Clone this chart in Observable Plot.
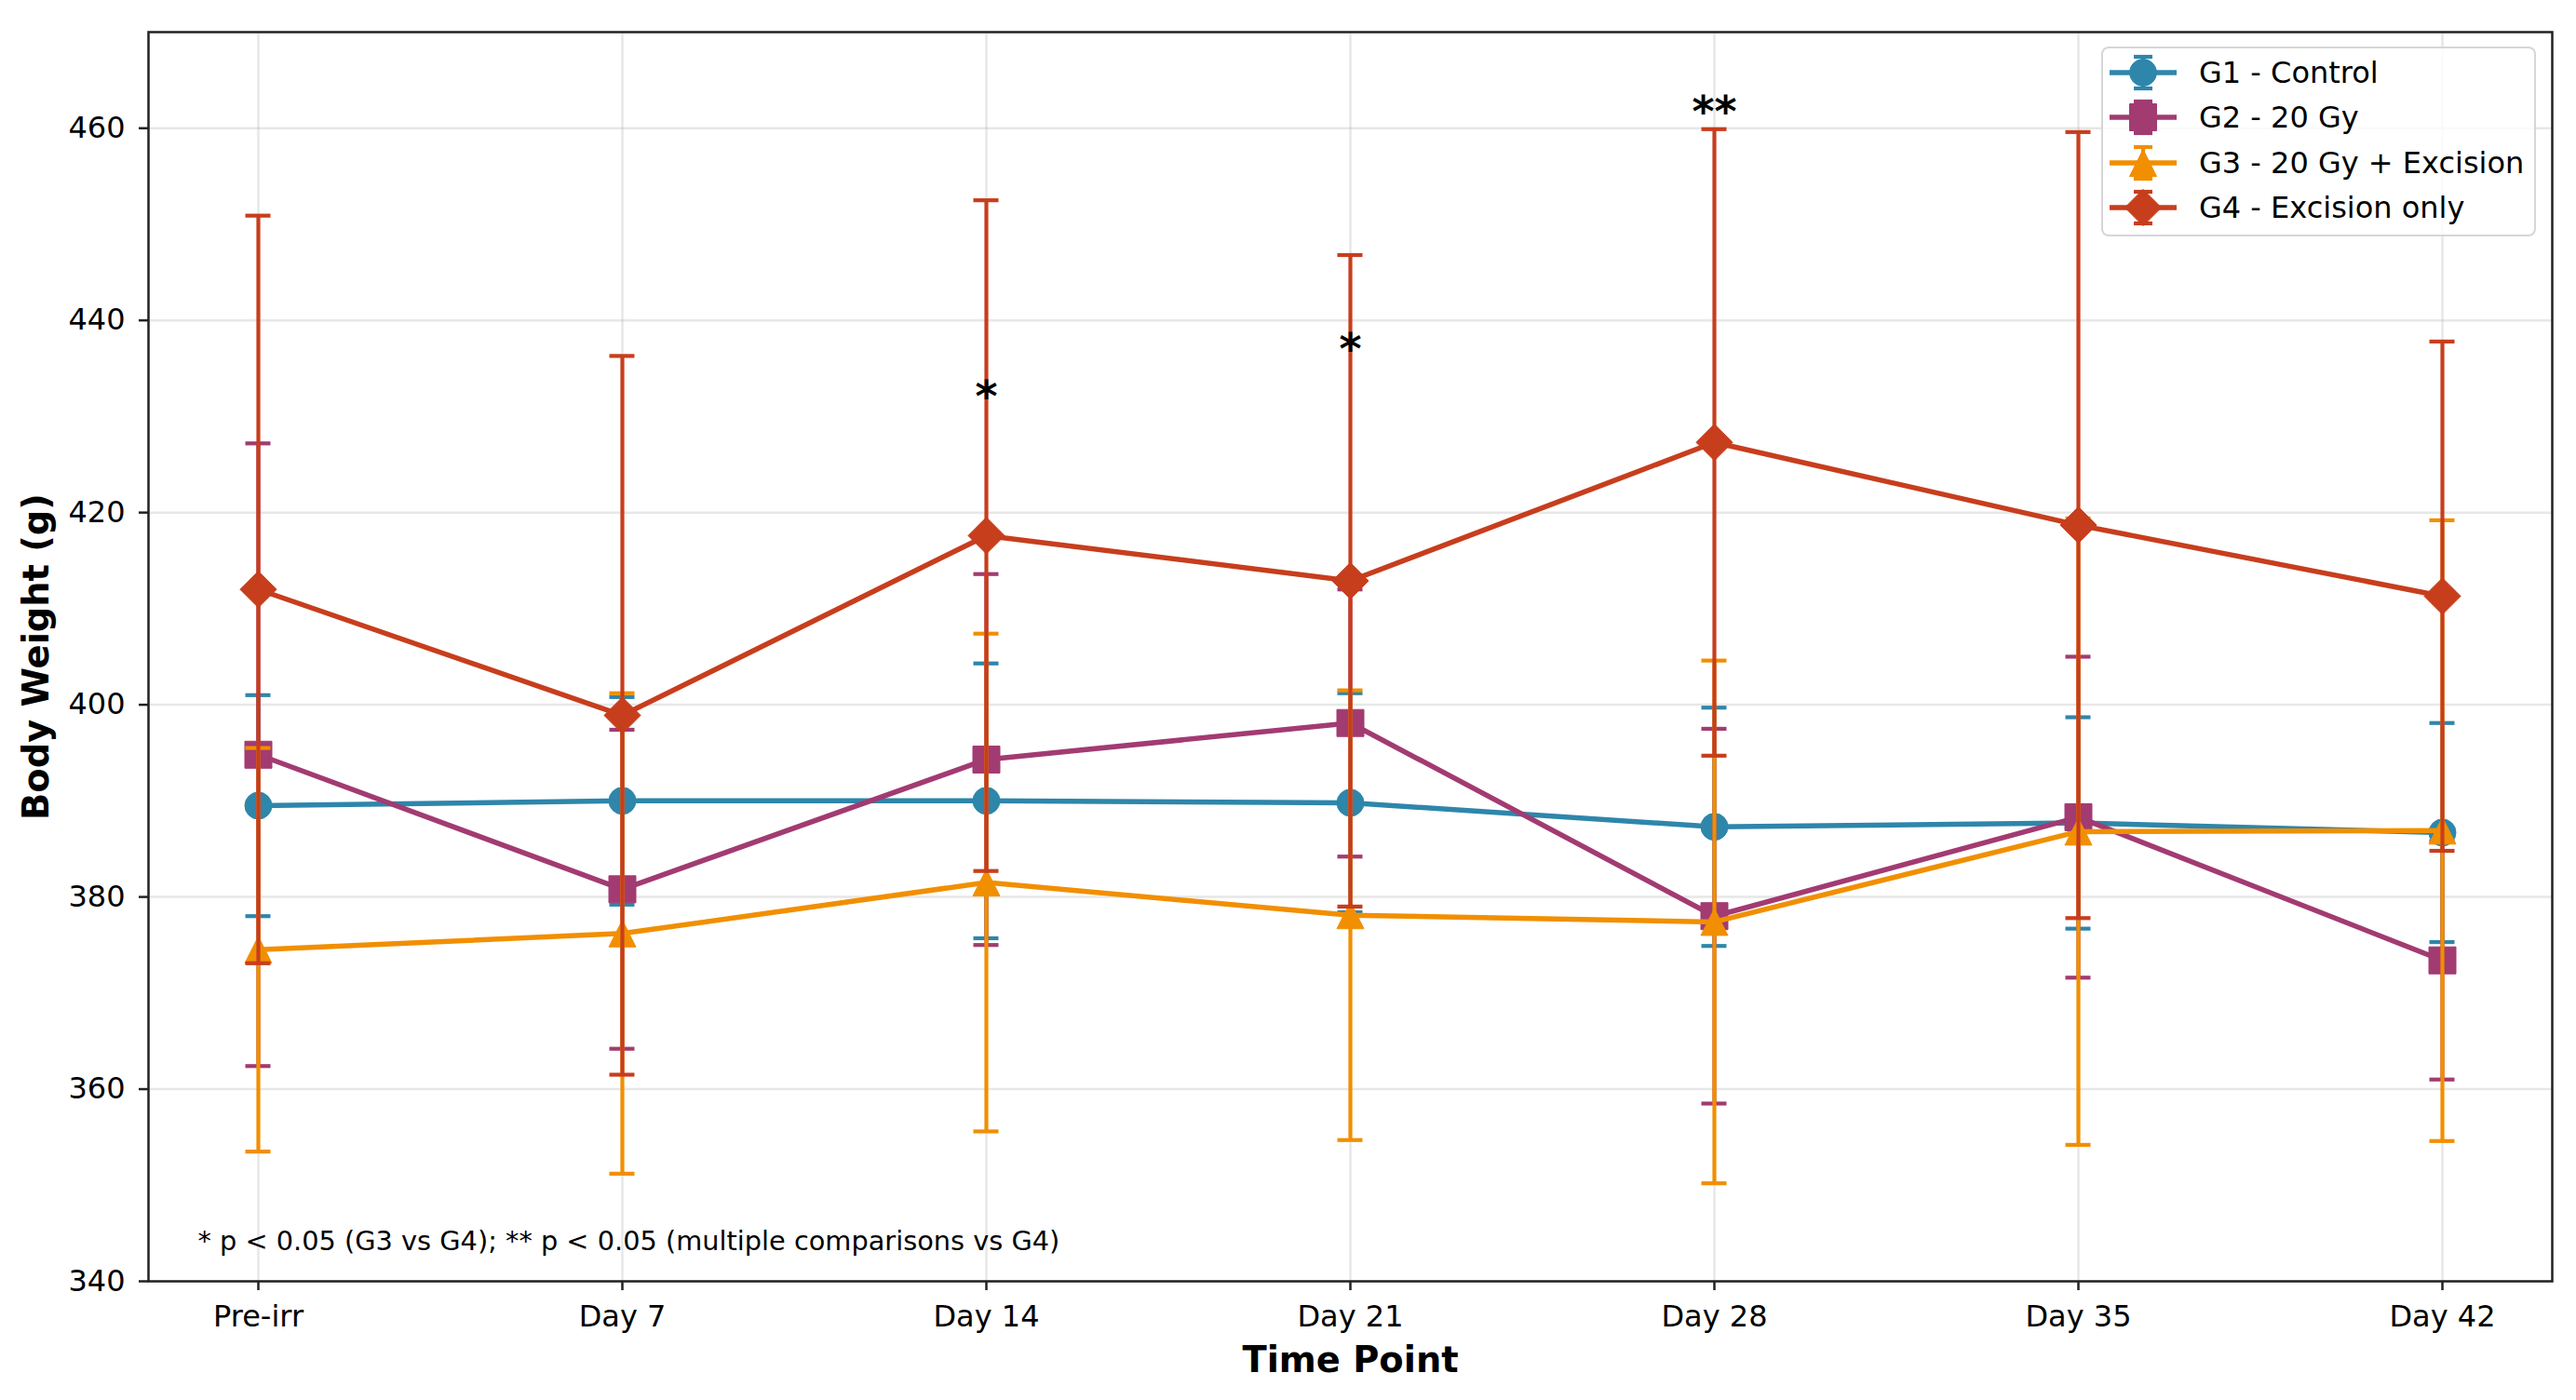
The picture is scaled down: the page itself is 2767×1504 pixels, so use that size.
<!DOCTYPE html>
<html>
<head>
<meta charset="utf-8">
<script src="https://cdn.jsdelivr.net/npm/d3@7"></script>
<script src="https://cdn.jsdelivr.net/npm/@observablehq/plot@0.6"></script>
<style>
  html, body { margin: 0; padding: 0; background: #fff; }
  #chart { position: relative; width: 2767px; height: 1504px; font-family: "DejaVu Sans", sans-serif; }
  #legend {
    position: absolute; left: 2257px; top: 50px; width: 467px; height: 204px;
    box-sizing: border-box; border: 2px solid rgba(204,204,204,0.8); border-radius: 8px;
    background: rgba(255,255,255,0.8);
  }
  #legend .row { position: absolute; left: 7px; height: 48px; display: flex; align-items: center; }
  #legend .row span { margin-left: 24px; font-size: 32px; color: #000; white-space: nowrap; }
</style>
</head>
<body>
<div id="chart"></div>
<script>
// Time points on the x axis
const timepoints = ["Pre-irr", "Day 7", "Day 14", "Day 21", "Day 28", "Day 35", "Day 42"];

// Group means and SEM of body weight (g)
const g1Mean = [389.5, 390.0, 390.0, 389.8, 387.3, 387.7, 386.7];
const g1Sem  = [11.5, 10.8, 14.3, 11.4, 12.4, 11.0, 11.4];
const g2Mean = [394.8, 380.8, 394.3, 398.1, 378.0, 388.3, 373.4];
const g2Sem  = [32.4, 16.6, 19.3, 13.9, 19.5, 16.7, 12.4];
const g3Mean = [374.5, 376.2, 381.5, 378.1, 377.4, 386.8, 386.9];
const g3Sem  = [21.0, 25.0, 25.9, 23.4, 27.2, 32.6, 32.3];
const g4Mean = [412.0, 398.9, 417.6, 412.9, 427.3, 418.7, 411.3];
const g4Sem  = [38.9, 37.4, 34.9, 33.9, 32.6, 40.9, 26.5];

const groupNames   = ["G1 - Control", "G2 - 20 Gy", "G3 - 20 Gy + Excision", "G4 - Excision only"];
const groupColors  = ["#2E86AB", "#A23B72", "#F18F01", "#C73E1D"];
const groupMarkers = ["circle", "square", "triangle", "diamond"];
const groupMeans   = [g1Mean, g2Mean, g3Mean, g4Mean];
const groupSems    = [g1Sem, g2Sem, g3Sem, g4Sem];

// y axis ticks
const yTicks = [340, 360, 380, 400, 420, 440, 460];

// Significance markers
const sigTimepoints = ["Day 14", "Day 21", "Day 28"];
const sigLabels     = ["*", "*", "**"];
const sigY          = [432.5, 437.5, 462.2];

const footnote = "* p < 0.05 (G3 vs G4); ** p < 0.05 (multiple comparisons vs G4)";
const xLabel = "Time Point";
const yLabel = "Body Weight (g)";

// Marker shapes (radius r = half marker size)
const markerPaths = {
  circle:   (p, r) => { p.moveTo(r, 0); p.arc(0, 0, r, 0, 2 * Math.PI); },
  square:   (p, r) => { p.rect(-r, -r, 2 * r, 2 * r); },
  triangle: (p, r) => { p.moveTo(0, -r); p.lineTo(r, r); p.lineTo(-r, r); p.closePath(); },
  diamond:  (p, r) => { const d = r * 1.35; p.moveTo(0, -d); p.lineTo(d, 0); p.lineTo(0, d); p.lineTo(-d, 0); p.closePath(); }
};
const symbolOf = (k) => ({ draw(ctx, size) { markerPaths[k](ctx, Math.sqrt(size / Math.PI)); } });

const MARKER_R = 14.5;
const CAP = 13.5;
const LINE_W = 5.5;
const BAR_W = 4.2;

const groupMarks = groupNames.flatMap((name, g) => {
  const rows = timepoints.map((t, i) => ({
    time: t,
    mean: groupMeans[g][i],
    lo: groupMeans[g][i] - groupSems[g][i],
    hi: groupMeans[g][i] + groupSems[g][i]
  }));
  const color = groupColors[g];
  const cap = (key) => Plot.ruleY(rows, { x1: "time", x2: "time", y: key, stroke: color, strokeWidth: BAR_W, insetLeft: -CAP, insetRight: -CAP });
  return [
    Plot.line(rows, { x: "time", y: "mean", stroke: color, strokeWidth: LINE_W }),
    Plot.dot(rows, { x: "time", y: "mean", symbol: symbolOf(groupMarkers[g]), r: MARKER_R, fill: color, stroke: color, strokeWidth: 1 }),
    Plot.ruleX(rows, { x: "time", y1: "lo", y2: "hi", stroke: color, strokeWidth: BAR_W }),
    cap("lo"),
    cap("hi")
  ];
});

const sigRows = sigTimepoints.map((t, i) => ({ time: t, y: sigY[i], label: sigLabels[i] }));

const gridStyle = { stroke: "#b0b0b0", strokeOpacity: 0.3, strokeWidth: 2.5 };

const chart = Plot.plot({
  width: 2767,
  height: 1504,
  marginLeft: 159,
  marginRight: 26,
  marginTop: 34,
  marginBottom: 128,
  style: { fontFamily: "DejaVu Sans", fontSize: "32px", color: "#000", background: "#fff" },
  x: { type: "point", domain: timepoints, padding: 0.3 },
  y: { domain: [340, 470] },
  marks: [
    Plot.gridY(yTicks, gridStyle),
    Plot.gridX(timepoints, gridStyle),
    ...groupMarks,
    Plot.text(sigRows, { x: "time", y: "y", text: "label", fontSize: 46, fontWeight: "bold", lineAnchor: "middle", dy: 6, fill: "#000" }),
    Plot.text([footnote], { frameAnchor: "bottom-left", text: (d) => d, textAnchor: "start", lineAnchor: "middle", dx: 53, dy: -43, fontSize: 28.8, fill: "#000" }),
    Plot.frame({ stroke: "#222", strokeWidth: 2.5 }),
    Plot.axisY(yTicks, { tickSize: 10, tickPadding: 15, fontSize: 32, label: null, strokeWidth: 2.5, stroke: "#222" }),
    Plot.axisX(timepoints, { tickSize: 10, tickPadding: 16, fontSize: 32, label: null, strokeWidth: 2.5, stroke: "#222" }),
    Plot.text([yLabel], { frameAnchor: "left", text: (d) => d, rotate: -90, dx: -120, textAnchor: "middle", lineAnchor: "middle", fontSize: 38.4, fontWeight: "bold", fill: "#000" }),
    Plot.text([xLabel], { frameAnchor: "bottom", text: (d) => d, dy: 85, textAnchor: "middle", lineAnchor: "middle", fontSize: 38.4, fontWeight: "bold", fill: "#000" })
  ]
});

const container = document.getElementById("chart");
container.appendChild(chart);

// Legend overlay in the upper right of the plot area
const legend = d3.select(container).append("div").attr("id", "legend");
groupNames.forEach((name, g) => {
  const row = legend.append("div").attr("class", "row").style("top", `${2 + g * 48.3}px`);
  const svg = row.append("svg").attr("width", 72).attr("height", 48);
  const c = groupColors[g];
  svg.append("line").attr("x1", 0).attr("x2", 72).attr("y1", 24).attr("y2", 24).attr("stroke", c).attr("stroke-width", LINE_W);
  svg.append("line").attr("x1", 36).attr("x2", 36).attr("y1", 7).attr("y2", 41).attr("stroke", c).attr("stroke-width", BAR_W);
  svg.append("line").attr("x1", 26).attr("x2", 46).attr("y1", 7).attr("y2", 7).attr("stroke", c).attr("stroke-width", BAR_W);
  svg.append("line").attr("x1", 26).attr("x2", 46).attr("y1", 41).attr("y2", 41).attr("stroke", c).attr("stroke-width", BAR_W);
  const p = d3.path();
  markerPaths[groupMarkers[g]](p, MARKER_R);
  svg.append("path").attr("d", p.toString()).attr("transform", "translate(36,24)").attr("fill", c).attr("stroke", c).attr("stroke-width", 1);
  row.append("span").text(name);
});
</script>
</body>
</html>
